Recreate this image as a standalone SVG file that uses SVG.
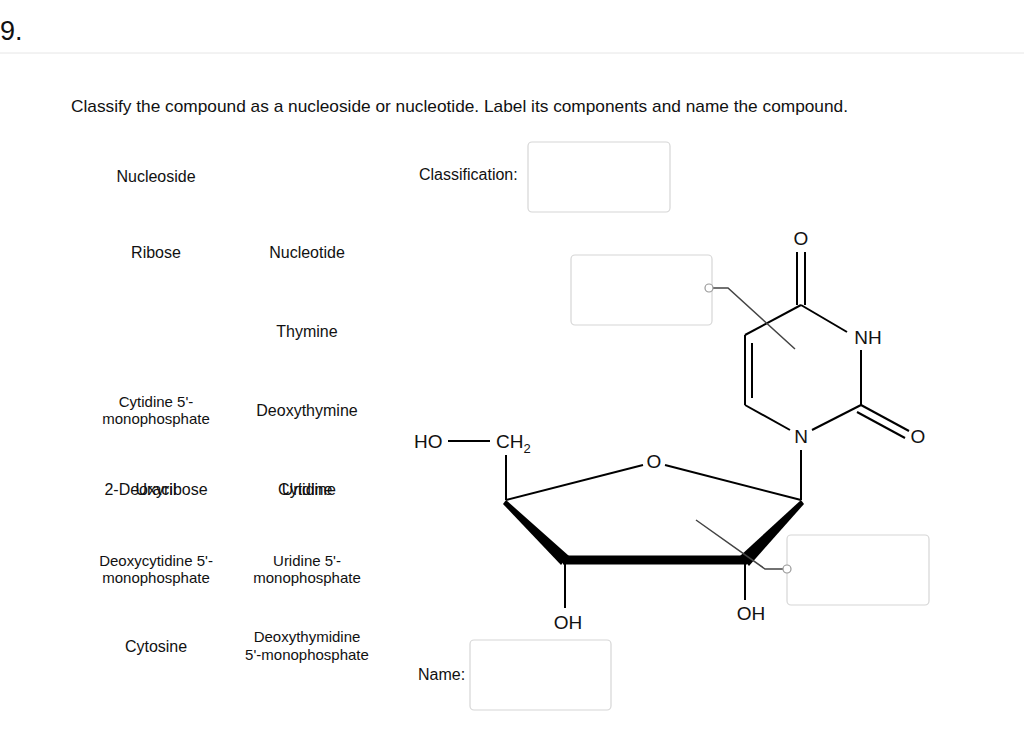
<svg xmlns="http://www.w3.org/2000/svg" width="1024" height="735" viewBox="0 0 1024 735">
<style>
text{font-family:"Liberation Sans",Arial,sans-serif;fill:#111;font-size:16px}
.c{text-anchor:middle}
.s{font-size:15px}
.box{fill:#fff;stroke:#d6d6d6;stroke-width:1.2}
.b{stroke:#000;stroke-width:2;fill:none}
.ch{font-size:19px}
.ptr{stroke:#444;stroke-width:1.5;fill:none}
.dot{fill:#fff;stroke:#999;stroke-width:1.2}
</style>
<rect width="1024" height="735" fill="#fff"/>
<text x="0" y="40" style="font-size:27px">9.</text>
<line x1="0" y1="53" x2="1024" y2="53" stroke="#e6e6e6"/>
<text x="71" y="112" textLength="777" lengthAdjust="spacingAndGlyphs" style="font-size:17px">Classify the compound as a nucleoside or nucleotide. Label its components and name the compound.</text>
<g id="bank">
<text class="c" x="156" y="182">Nucleoside</text>
<text class="c" x="156" y="258">Ribose</text>
<text class="c" x="307" y="258">Nucleotide</text>
<text class="c" x="307" y="337">Thymine</text>
<text class="c s" x="156" y="407">Cytidine 5'-</text>
<text class="c s" x="156" y="424">monophosphate</text>
<text class="c" x="307" y="416">Deoxythymine</text>
<text class="c" x="156" y="495">2-Deoxyribose</text>
<text class="c" x="156" y="495">Uracil</text>
<text class="c" x="307" y="495">Cytidine</text>
<text class="c" x="307" y="495">Uridine</text>
<text class="c s" x="156" y="566">Deoxycytidine 5'-</text>
<text class="c s" x="156" y="583">monophosphate</text>
<text class="c s" x="307" y="566">Uridine 5'-</text>
<text class="c s" x="307" y="583">monophosphate</text>
<text class="c" x="156" y="652">Cytosine</text>
<text class="c s" x="307" y="642">Deoxythymidine</text>
<text class="c s" x="307" y="660">5'-monophosphate</text>
</g>
<g id="classification">
<text x="419" y="180">Classification:</text>
<rect class="box" x="528" y="142" width="142" height="70" rx="4"/>
</g>
<g id="name">
<text x="418" y="680">Name:</text>
<rect class="box" x="470" y="640" width="141" height="70" rx="4"/>
</g>
<g id="box1"><rect class="box" x="571" y="255" width="141" height="70" rx="4"/></g>
<g id="box2"><rect class="box" x="787" y="535" width="142" height="70" rx="4"/></g>
<g id="molecule">
<text class="c ch" x="801" y="245">O</text>
<line class="b" x1="797" y1="252" x2="797" y2="305"/>
<line class="b" x1="805" y1="252" x2="805" y2="305"/>
<line class="b" x1="801" y1="305" x2="847" y2="332"/>
<text class="c ch" x="868" y="344">NH</text>
<line class="b" x1="861" y1="350" x2="861" y2="405"/>
<line class="b" x1="861" y1="405" x2="909" y2="431"/>
<line class="b" x1="857" y1="412" x2="905" y2="438"/>
<text class="c ch" x="918" y="443">O</text>
<line class="b" x1="861" y1="405" x2="812" y2="430"/>
<text class="c ch" x="801" y="443">N</text>
<line class="b" x1="790" y1="430" x2="745" y2="405"/>
<line class="b" x1="745" y1="405" x2="745" y2="335"/>
<line class="b" x1="752" y1="398" x2="752" y2="343"/>
<line class="b" x1="745" y1="335" x2="801" y2="305"/>
<line class="b" x1="801" y1="450" x2="801" y2="500"/>
<text x="414" y="448" class="ch">HO</text>
<line class="b" x1="448" y1="441" x2="490" y2="441"/>
<text x="496" y="448" class="ch">CH<tspan dy="5" style="font-size:13px">2</tspan></text>
<line class="b" x1="506" y1="455" x2="506" y2="500"/>
<line class="b" x1="506" y1="500" x2="643" y2="465"/>
<text class="c ch" x="654" y="468">O</text>
<line class="b" x1="665" y1="465" x2="801" y2="500"/>
<polygon points="506,500 503,504 561,565 569,556"/>
<line x1="563" y1="560" x2="747" y2="560" stroke="#000" stroke-width="9"/>
<polygon points="801,500 804,504 749,566 740,556"/>
<line class="b" x1="565" y1="560" x2="565" y2="608"/>
<text class="c ch" x="568" y="629">OH</text>
<line class="b" x1="745" y1="560" x2="745" y2="600"/>
<text class="c ch" x="751" y="620">OH</text>
</g>
<g id="connectors">
<polyline class="ptr" points="709,288 728,288 795,349"/>
<circle class="dot" cx="709" cy="288" r="4"/>
<polyline class="ptr" points="696,520 765,569 787,569"/>
<circle class="dot" cx="787" cy="569" r="4"/>
</g>
</svg>
